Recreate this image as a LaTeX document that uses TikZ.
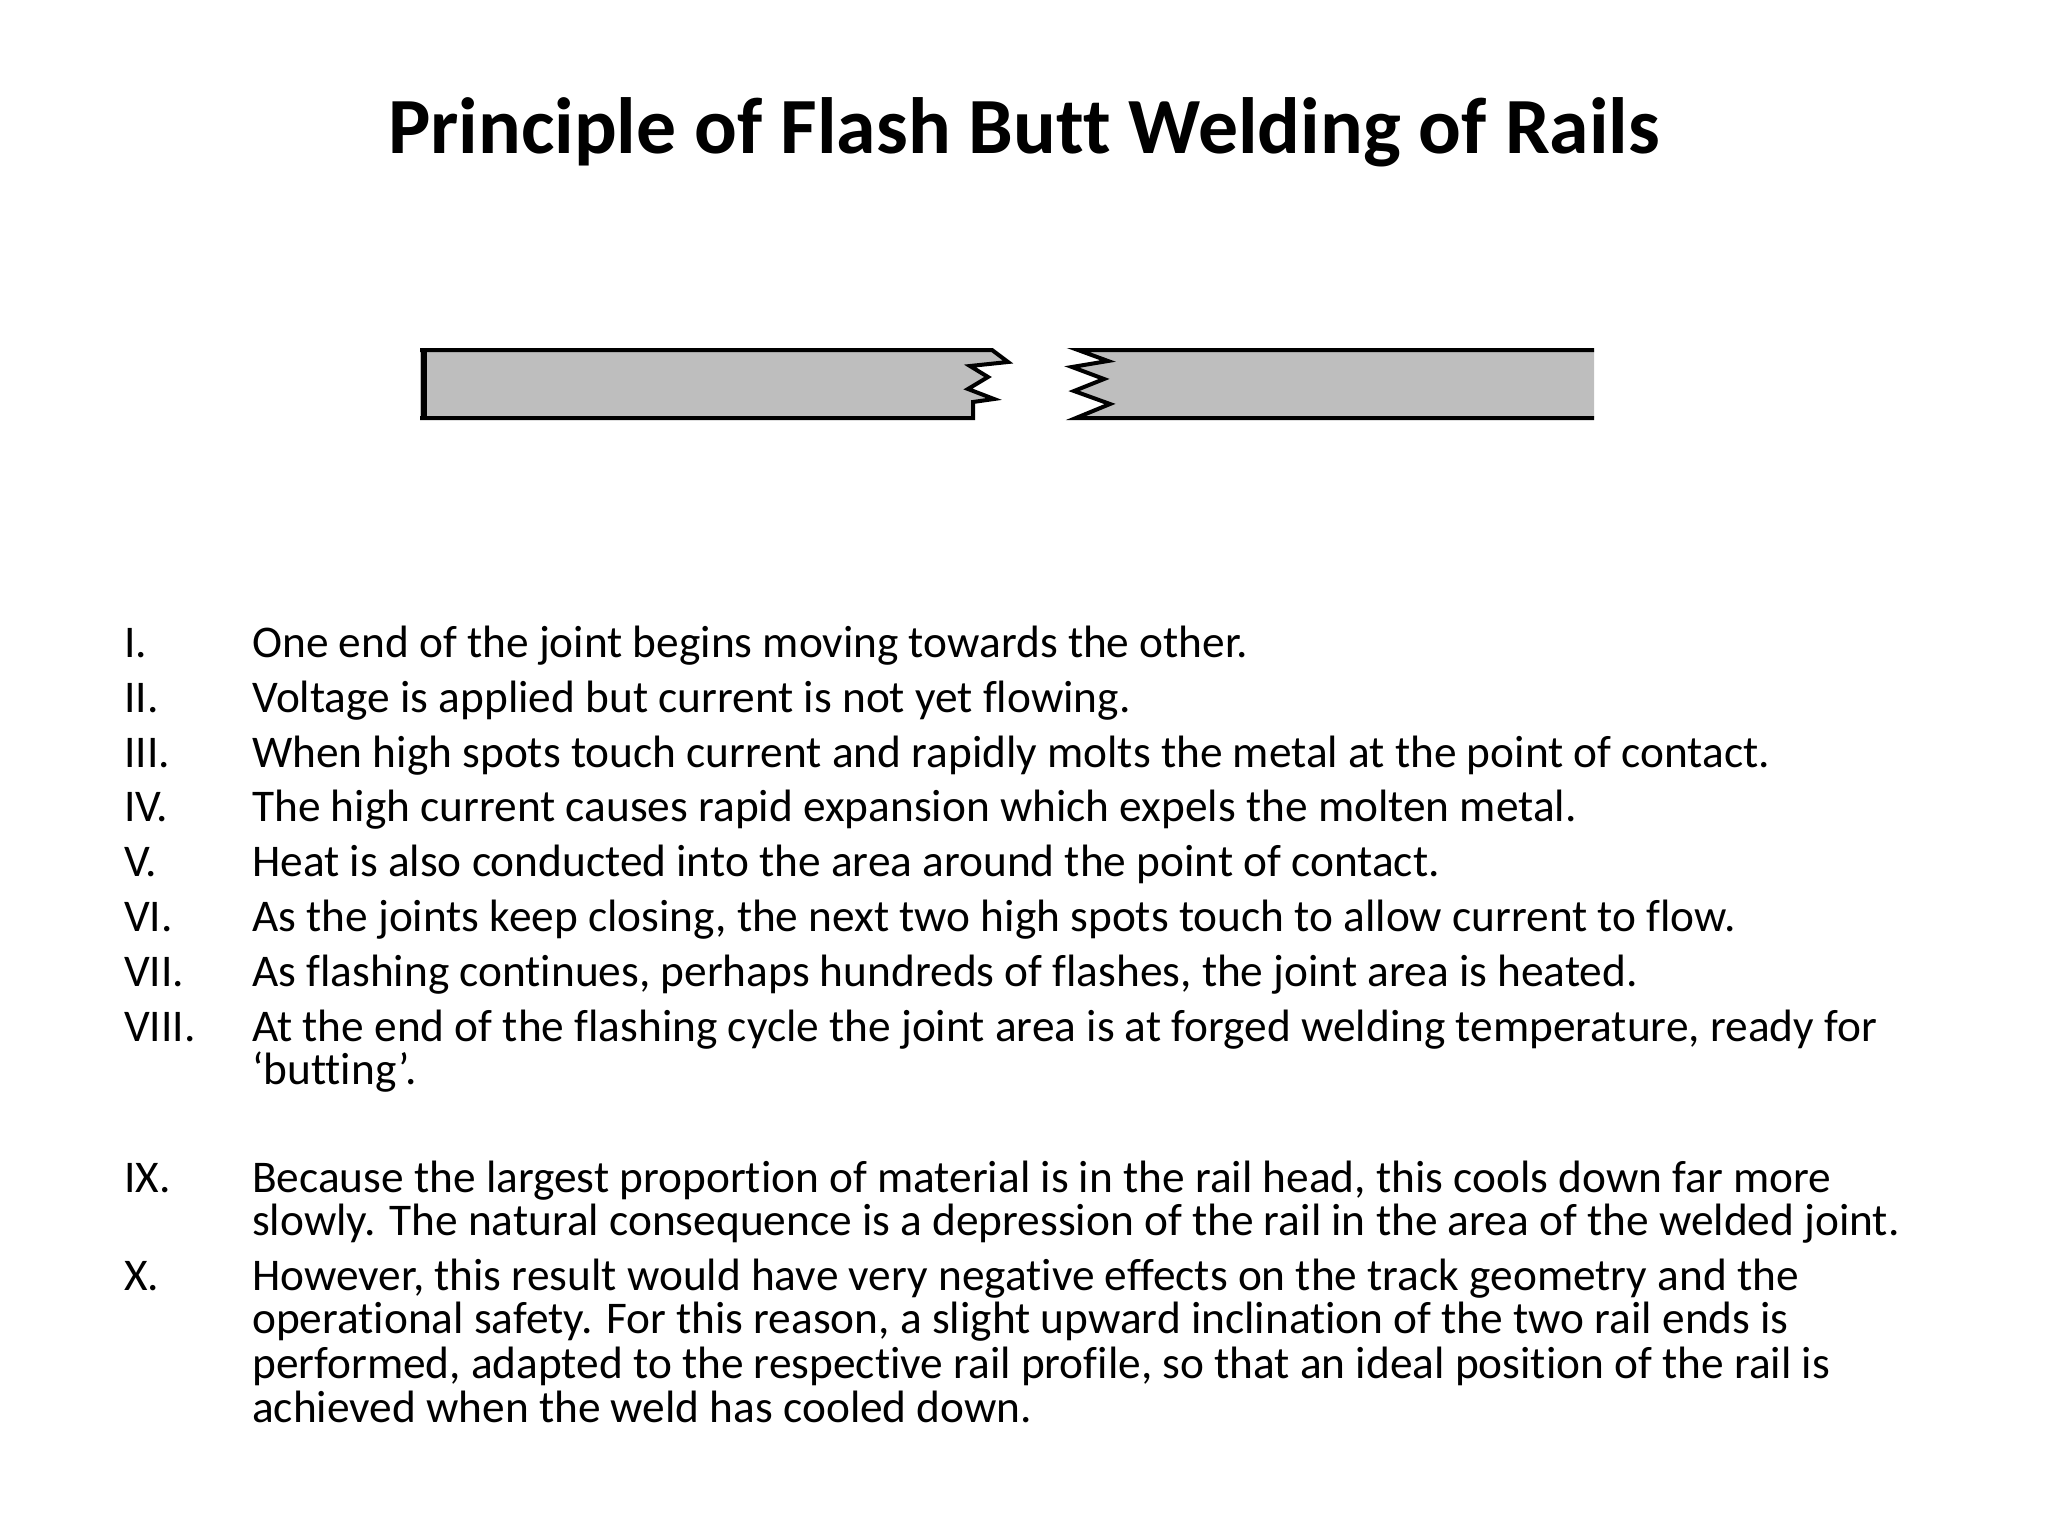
\documentclass[tikz,border=0pt]{standalone}
\usepackage{fontspec}
\setmainfont[Ligatures=NoCommon]{Carlito}
\begin{document}
\begin{tikzpicture}[x=1bp,y=-1bp,
  num/.style={anchor=base west,inner sep=0pt,font=\fontsize{45.5}{48}\selectfont},
  txt/.style={anchor=base west,inner sep=0pt,font=\fontsize{45.5}{48}\selectfont,align=left}]
\useasboundingbox (0,0) rectangle (2048,1536);
\node[anchor=base,inner sep=0pt,font=\bfseries\fontsize{80}{84}\selectfont] (title) at (1024,154) {Principle of Flash Butt Welding of Rails};
% left rail
\path[fill={rgb,255:red,190;green,190;blue,190}] (420,350) -- (992,350) -- (1008,362) -- (970,366) -- (988,377) -- (968,389) -- (994,399) -- (973,402) -- (973,418) -- (420,418) -- cycle;
\draw[line width=4bp] (420,350) -- (992,350) -- (1008,362) -- (970,366) -- (988,377) -- (968,389) -- (994,399) -- (973,402) -- (973,418) -- (420,418);
\draw[line width=6bp] (424,348) -- (424,420);
% right rail
\path[fill={rgb,255:red,190;green,190;blue,190}] (1594,350) -- (1078,350) -- (1108,361) -- (1072,367) -- (1104,379) -- (1074,391) -- (1110,404) -- (1076,418) -- (1594,418) -- cycle;
\draw[line width=4bp] (1594,350) -- (1078,350) -- (1108,361) -- (1072,367) -- (1104,379) -- (1074,391) -- (1110,404) -- (1076,418) -- (1594,418);
% list
\node[num] (n1) at (124,657) {I.};
\node[txt] (t1) at (252,657) {One end of the joint begins moving towards the other.};
\node[num] (n2) at (124,712) {II.};
\node[txt] (t2) at (252,712) {Voltage is applied but current is not yet flowing.};
\node[num] (n3) at (124,767) {III.};
\node[txt] (t3) at (252,767) {When high spots touch current and rapidly molts the metal at the point of contact.};
\node[num] (n4) at (124,821) {IV.};
\node[txt] (t4) at (252,821) {The high current causes rapid expansion which expels the molten metal.};
\node[num] (n5) at (124,876) {V.};
\node[txt] (t5) at (252,876) {Heat is also conducted into the area around the point of contact.};
\node[num] (n6) at (124,931) {VI.};
\node[txt] (t6) at (252,931) {As the joints keep closing, the next two high spots touch to allow current to flow.};
\node[num] (n7) at (124,986) {VII.};
\node[txt] (t7) at (252,986) {As flashing continues, perhaps hundreds of flashes, the joint area is heated.};
\node[num] (n8) at (124,1041) {VIII.};
\node[txt] (t8) at (252,1041) {At the end of the flashing cycle the joint area is at forged welding temperature, ready for};
\node[txt] (t8b) at (252,1084) {‘butting’.};
\node[num] (n9) at (124,1192) {IX.};
\node[txt] (t9) at (252,1192) {Because the largest proportion of material is in the rail head, this cools down far more};
\node[txt] (t9b) at (252,1235) {slowly. The natural consequence is a depression of the rail in the area of the welded joint.};
\node[num] (n10) at (124,1290) {X.};
\node[txt] (t10) at (252,1290) {However, this result would have very negative effects on the track geometry and the};
\node[txt] (t10b) at (252,1333) {operational safety. For this reason, a slight upward inclination of the two rail ends is};
\node[txt] (t10c) at (252,1378) {performed, adapted to the respective rail profile, so that an ideal position of the rail is};
\node[txt] (t10d) at (252,1422) {achieved when the weld has cooled down.};
\end{tikzpicture}
\end{document}
